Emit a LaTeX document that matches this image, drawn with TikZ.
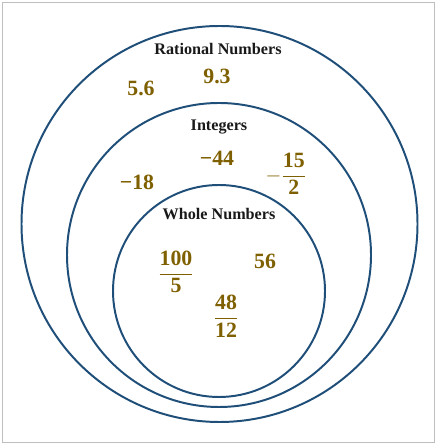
\documentclass[tikz,border=0pt]{standalone}
\usepackage{amsmath}
\usepackage{fontspec}
\setmainfont{Liberation Serif}
\definecolor{setblue}{HTML}{1F4E79}
\definecolor{numgold}{HTML}{7F6000}
\definecolor{framegray}{HTML}{BFBFBF}
\tikzset{
  set/.style={draw=setblue, line width=1.4pt},
  setname/.style={font=\fontsize{11.5}{13}\selectfont\bfseries, text=black!90},
  num/.style={font=\fontsize{15.5}{18}\selectfont\bfseries, text=numgold, inner sep=0pt}
}

\begin{document}
\begin{tikzpicture}
         \useasboundingbox (0,0) rectangle (10.925,11.15);
         \draw[framegray, line width=0.7pt] (0.0625,0.1) rectangle (10.85,11.075);
         \draw[set] (5.4875,5.55) circle (4.95);
         \draw[set] (5.475,4.775) circle (3.8);
         \draw[set] (5.475,3.875) circle (2.65);
         \node[setname] (Q) at (5.45,9.925) {Rational Numbers};
         \node[setname] (Z) at (5.475,7.975) {Integers};
         \node[setname] (W) at (5.475,5.8) {Whole Numbers};
         \node[num] (A) at (3.525,8.95) {5.6};
         \node[num] (B) at (5.425,9.25) {9.3};
         \node[num] (C) at (5.425,7.2) {−44};
         \node[num] (D) at (3.425,6.6) {−18};
         \node[num] (E) at (7.15,6.8) {$-\dfrac{\text{15}}{\text{2}}$};
         \node[num] (F) at (4.4,4.35) {$\dfrac{\text{100}}{\text{5}}$};
         \node[num] (G) at (6.625,4.625) {56};
         \node[num] (H) at (5.65,3.25) {$\dfrac{\text{48}}{\text{12}}$};
      \end{tikzpicture}
\end{document}
